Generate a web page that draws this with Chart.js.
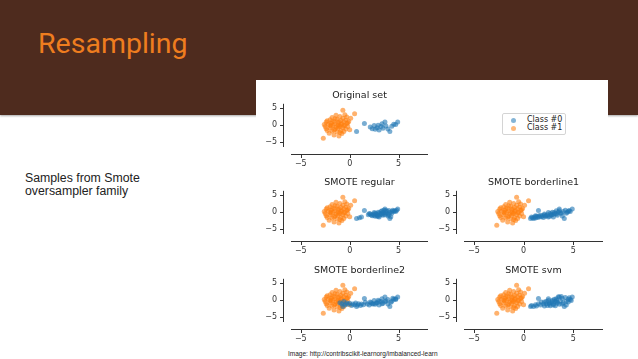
<!DOCTYPE html>
<html>
<head>
<meta charset="utf-8">
<script src="https://cdn.jsdelivr.net/npm/chart.js@4/dist/chart.umd.min.js"></script>
<style>
  body { margin: 0; width: 638px; height: 359px; background: #fff; position: relative; overflow: hidden; }
  #header { position: absolute; left: 0; top: 0; width: 638px; height: 115px; background: #4e2b1e; box-shadow: 0 1px 2px rgba(0,0,0,0.35); }
  #title { position: absolute; left: 38px; top: 29px; font: 28.5px Roboto, sans-serif; line-height: 30px; color: #ee7d1f; }
  #body { position: absolute; left: 25px; top: 172px; font: 12.3px "Liberation Sans", Arial, sans-serif; line-height: 13px; color: #222; }
  #figure { position: absolute; left: 256px; top: 80px; width: 352px; height: 279px; background: #fff; }
  canvas { position: absolute; }
  #legend { position: absolute; left: 502px; top: 113px; width: 62px; height: 20px; border: 1px solid #d4d4d4; border-radius: 2px; background: #fff; font: 8px "DejaVu Sans", sans-serif; color: #222; }
  .item { position: absolute; left: 0; height: 8px; line-height: 8px; }
  .dot { position: absolute; left: 8px; top: 1.5px; width: 5px; height: 5px; border-radius: 50%; }
  .lab { position: absolute; left: 24px; top: 0; white-space: nowrap; }
  #caption { position: absolute; left: 288px; top: 350px; font: 6.5px "Liberation Sans", Arial, sans-serif; color: #222; white-space: nowrap; }
</style>
</head>
<body>
<div id="header"></div>
<div id="title">Resampling</div>
<div id="body">Samples from Smote<br>oversampler family</div>
<div id="figure"></div>
<canvas id="c0" width="176" height="84" style="left:256px;top:85px"></canvas>
<canvas id="c1" width="176" height="84" style="left:256px;top:172px"></canvas>
<canvas id="c2" width="178" height="84" style="left:429px;top:172px"></canvas>
<canvas id="c3" width="176" height="84" style="left:256px;top:260px"></canvas>
<canvas id="c4" width="178" height="84" style="left:429px;top:260px"></canvas>
<div id="legend"></div>
<div id="caption">Image: http://contribscikit-learnorg/imbalanced-learn</div>
<script>
const titles = ['Original set', 'SMOTE regular', 'SMOTE borderline1', 'SMOTE borderline2', 'SMOTE svm'];
const classNames = ['Class #0', 'Class #1'];
const xTicks = [-5, 0, 5];
const yTicks = [-5, 0, 5];

// class #1 (majority, orange) - same in every panel
const class1 = [
  [-2.5,-0.5],[-2.4,0.8],[-2.3,-1.6],[-2.2,0.2],[-2.1,-2.4],[-2.0,1.5],[-2.0,-0.9],[-1.9,0.5],
  [-1.8,-1.8],[-1.8,2.1],[-1.7,-0.2],[-1.6,1.0],[-1.6,-2.9],[-1.5,-1.2],[-1.5,0.3],[-1.4,2.8],
  [-1.4,-0.6],[-1.3,1.6],[-1.3,-2.0],[-1.2,0.0],[-1.2,-1.0],[-1.1,0.9],[-1.1,-3.2],[-1.0,2.4],
  [-1.0,-0.4],[-0.9,1.3],[-0.9,-1.6],[-0.8,0.4],[-0.8,-2.5],[-0.7,4.2],[-0.7,1.9],[-0.7,-0.8],
  [-0.6,0.9],[-0.6,-1.9],[-0.5,2.9],[-0.5,-0.1],[-0.4,1.4],[-0.4,-1.2],[-0.3,0.4],[-0.3,2.3],
  [-0.2,-0.5],[-0.1,1.0],[0.0,-1.4],[0.1,1.9],[0.5,3.2],[-2.7,-3.9],[-2.6,0.1],[-2.3,1.2],
  [-1.9,-0.4],[-1.6,-1.5],[-1.2,0.6],[-0.9,0.1],[-2.0,-0.1],[-1.5,1.8],[-1.0,-2.2],[-0.2,0.6],
  [-2.4,-1.1],[-1.8,0.9],[-1.1,-0.5],[-0.6,-0.3]
];

// class #0 (minority, blue) original samples
const class0 = [
  [0.7,-1.9],[1.5,0.4],[2.1,-0.6],[2.3,-1.1],[2.5,-0.2],[2.6,-1.3],[2.8,-0.8],[2.9,-0.1],
  [3.0,-1.5],[3.2,-0.5],[3.3,0.3],[3.4,-1.0],[3.6,0.8],[3.7,-0.3],[3.9,-1.2],[4.1,-1.9],
  [4.3,-0.4],[4.5,0.2],[4.7,0.1],[4.9,0.8]
];

// synthetic class #0 samples for each oversampler
const newRegular = [
  [1.0,-1.7],[1.2,-1.5],[1.9,-0.8],[2.0,-0.5],[2.2,-0.9],[2.4,-0.7],[2.5,-1.0],[2.7,-0.6],
  [2.8,-1.2],[3.0,-0.3],[3.1,-0.9],[3.2,0.1],[3.3,-0.7],[3.5,-0.4],[3.5,0.5],[3.6,-0.8],
  [3.8,0.2],[3.9,-0.6],[4.0,0.4],[4.1,-0.2],[4.2,-1.4],[4.4,0.5],[4.6,0.3],[4.8,0.5],
  [2.6,-0.4],[3.4,-0.2],[4.0,-0.9],[2.9,-1.3],[3.7,0.4],[4.3,0.1]
];
const newBorderline1 = [
  [0.9,-1.7],[1.0,-1.9],[1.1,-1.5],[1.2,-1.8],[1.3,-1.3],[1.4,-1.6],[1.5,-1.2],[1.6,-1.5],
  [1.7,-1.0],[1.8,-1.4],[1.9,-1.1],[2.0,-1.6],[2.1,-0.9],[2.2,-1.3],[2.4,-0.8],[2.5,-1.5],
  [2.7,-0.5],[2.8,-1.0],[3.0,-0.7],[3.1,-0.2],[3.3,-0.6],[3.5,-0.1],[3.6,0.3],[3.8,-0.4],
  [4.0,0.1],[4.2,0.5],[4.4,-0.1],[4.6,0.4],[0.8,-1.5],[1.2,-1.1]
];
const newBorderline2 = [
  [-1.0,-0.8],[-0.8,-1.2],[-0.6,-0.5],[-0.5,-1.5],[-0.3,-0.9],[-0.2,-1.3],[0.0,-1.0],[0.2,-1.6],
  [0.3,-1.2],[0.5,-1.4],[0.6,-0.9],[0.8,-1.5],[0.9,-1.1],[1.1,-1.6],[1.2,-1.2],[1.4,-1.4],
  [1.6,-0.7],[1.8,-1.2],[2.0,-1.5],[2.2,-0.8],[2.4,-1.2],[2.7,-0.9],[3.0,-0.4],[3.3,-1.1],
  [3.6,-0.5],[3.9,0.1],[4.2,-0.7],[4.4,0.5],[4.7,0.3],[-0.7,-1.9]
];
const newSvm = [
  [0.8,-1.6],[1.0,-1.9],[1.2,-1.4],[1.3,-1.8],[1.5,-1.1],[1.7,-1.5],[1.8,-0.6],[2.0,-1.2],
  [2.1,-1.8],[2.3,-0.4],[2.4,-1.6],[2.6,-0.9],[2.7,-1.7],[2.9,-0.5],[3.0,-1.2],[3.1,0.2],
  [3.2,-1.7],[3.4,-0.6],[3.5,0.9],[3.6,-1.3],[3.8,1.0],[3.9,0.4],[4.0,-0.8],[4.2,0.7],
  [4.3,-1.5],[4.5,-0.6],[4.6,0.6],[4.8,-0.2],[2.5,0.3],[3.3,-0.2]
];

const blueSets = [class0, class0.concat(newRegular), class0.concat(newBorderline1),
                  class0.concat(newBorderline2), class0.concat(newSvm)];

const colors = ['rgba(31,119,180,0.6)', 'rgba(255,127,14,0.6)'];
const legendDots = ['rgba(31,119,180,0.55)', 'rgba(255,127,14,0.55)'];
const tickFont = { family: 'DejaVu Sans', size: 8 };

// matplotlib-like offset spines
const spines = {
  id: 'spines',
  afterDraw(chart) {
    const { ctx, chartArea: a, scales: { x, y } } = chart;
    const sx = a.left - 8, sy = a.bottom + 7;
    ctx.save();
    ctx.strokeStyle = '#333';
    ctx.lineWidth = 1;
    ctx.beginPath();
    ctx.moveTo(sx + 0.5, a.top);
    ctx.lineTo(sx + 0.5, a.bottom);
    yTicks.forEach(v => {
      const p = Math.round(y.getPixelForValue(v)) + 0.5;
      ctx.moveTo(sx - 3, p); ctx.lineTo(sx + 0.5, p);
    });
    ctx.moveTo(a.left, sy + 0.5);
    ctx.lineTo(a.right, sy + 0.5);
    xTicks.forEach(v => {
      const p = Math.round(x.getPixelForValue(v)) + 0.5;
      ctx.moveTo(p, sy + 0.5); ctx.lineTo(p, sy + 4);
    });
    ctx.stroke();
    ctx.restore();
  }
};

const toXY = pts => pts.map(p => ({ x: p[0], y: p[1] }));
const minus = v => String(v).replace('-', '\u2212');

titles.forEach((t, i) => {
  new Chart(document.getElementById('c' + i), {
    type: 'scatter',
    data: {
      datasets: [
        { label: classNames[0], data: toXY(blueSets[i]), backgroundColor: colors[0], borderColor: colors[0],
          borderWidth: 0, pointRadius: 2.5 },
        { label: classNames[1], data: toXY(class1), backgroundColor: colors[1], borderColor: colors[1],
          borderWidth: 0, pointRadius: 2.5 }
      ]
    },
    options: {
      responsive: false,
      animation: false,
      layout: { padding: { right: 4, left: 0, top: 0, bottom: 0 } },
      plugins: {
        legend: { display: false },
        tooltip: { enabled: false },
        title: { display: true, fullSize: false, text: t, color: '#222',
                 font: { family: 'DejaVu Sans', size: 9.5, weight: 'normal' },
                 padding: { top: 2, bottom: 3 } }
      },
      scales: {
        x: {
          type: 'linear', min: -6, max: 8,
          grid: { display: false, drawTicks: false }, border: { display: false },
          ticks: { font: tickFont, color: '#333', padding: 12, maxRotation: 0, callback: minus },
          afterBuildTicks: s => { s.ticks = xTicks.map(v => ({ value: v })); },
          afterFit: s => { s.height = 22; }
        },
        y: {
          type: 'linear', min: -6.4, max: 6.1,
          grid: { display: false, drawTicks: false }, border: { display: false },
          ticks: { font: tickFont, color: '#333', padding: 14, callback: minus },
          afterBuildTicks: s => { s.ticks = yTicks.map(v => ({ value: v })); },
          afterFit: s => { s.width = 35; }
        }
      }
    },
    plugins: [spines]
  });
});

// legend built from the class names
const legend = document.getElementById('legend');
classNames.forEach((name, k) => {
  const item = document.createElement('div');
  item.className = 'item';
  item.style.top = (2 + k * 8) + 'px';
  item.innerHTML = '<span class="dot" style="background:' + legendDots[k] + '"></span><span class="lab">' + name + '</span>';
  legend.appendChild(item);
});
</script>
</body>
</html>
